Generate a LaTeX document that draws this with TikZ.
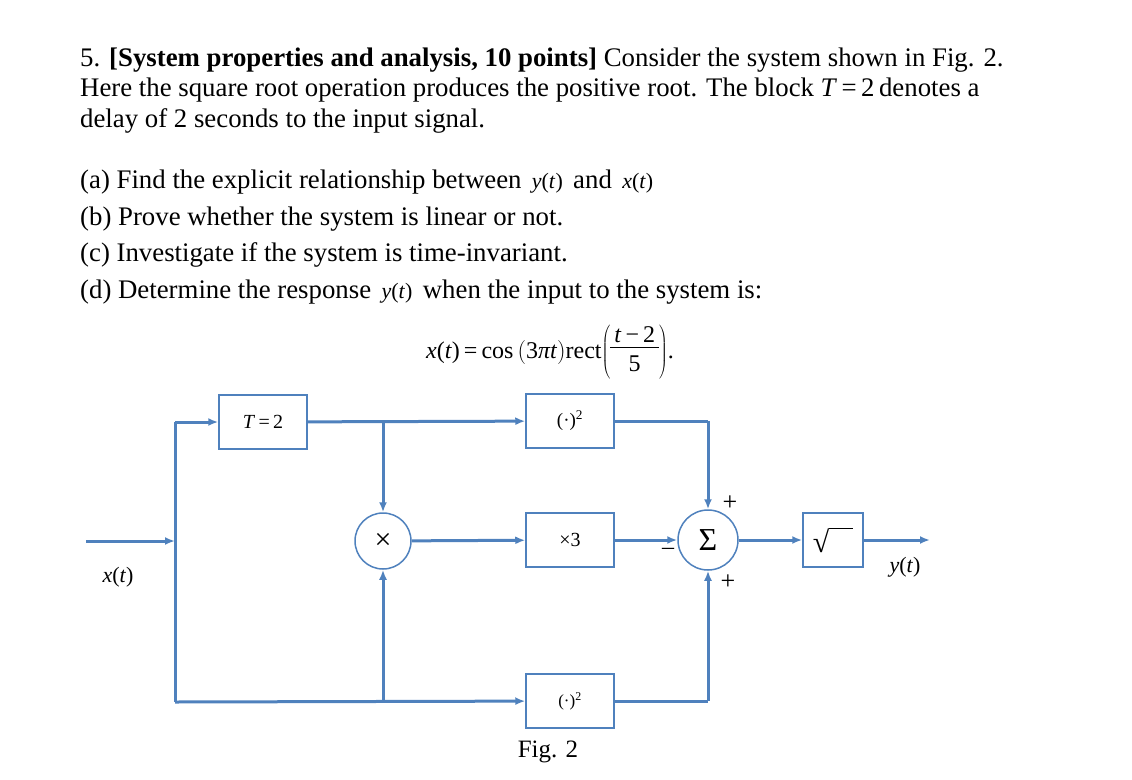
\documentclass[tikz,border=0pt]{standalone}
\usepackage{fix-cm}
\usepackage{fontspec}
\setmainfont{Liberation Serif}
\usetikzlibrary{arrows.meta}
\definecolor{wc}{RGB}{79,129,189}
\begin{document}
\begin{tikzpicture}[x=1pt,y=-1pt,
  wire/.style={draw=wc, line width=3pt},
  sig/.style={wire,-{Latex[length=10pt,width=8pt]}},
  blk/.style={draw=wc, line width=1.5pt, minimum width=88pt, minimum height=54pt, inner sep=0pt, fill=white},
  circ/.style={draw=wc, line width=1.5pt, circle, minimum size=58pt, inner sep=0pt, fill=white},
  txt/.style={anchor=base west, inner sep=0pt, font=\fontsize{26.8}{30}\selectfont}]
\useasboundingbox (0,0) rectangle (1132,779);
\node[txt] (l1) at (80,66) {5. \textbf{[System properties and analysis, 10 points]} Consider the system shown in Fig. 2.};
\node[txt] (l2) at (80,96) {Here the square root operation produces the positive root. The block \textit{T}\,=\,2\,denotes a};
\node[txt] (l3) at (80,127) {delay of 2 seconds to the input signal.};
\node[txt] (la) at (80,188) {(a) Find the explicit relationship between {\fontsize{22}{24}\selectfont\,\textit{y}(\textit{t})\,} and {\fontsize{22}{24}\selectfont\,\textit{x}(\textit{t})}};
\node[txt] (lb) at (80,225) {(b) Prove whether the system is linear or not.};
\node[txt] (lc) at (80,261) {(c) Investigate if the system is time-invariant.};
\node[txt] (ld) at (80,298) {(d) Determine the response {\fontsize{22}{24}\selectfont\,\textit{y}(\textit{t})\,} when the input to the system is:};
\node[inner sep=0pt, font=\fontsize{24}{26}\selectfont] (eq) at (550,352) {\textit{x}(\textit{t})\,=\,cos\,$\bigl($3\textit{πt}$\bigr)$rect$\left(\vcenter{\hbox{\begin{tabular}{@{\,}c@{\,}}\textit{t}\,−\,2\\[-3pt]\hline\rule{0pt}{24pt}5\end{tabular}}}\right)$.};

\node[blk, font=\fontsize{20}{22}\selectfont] (d) at (263,422) {\textit{T}\,=\,2};
\node[blk, font=\fontsize{19}{20}\selectfont] (sq1) at (570,421) {(·)\textsuperscript{2}};
\node[blk, font=\fontsize{20}{20}\selectfont] (m3) at (570,540) {×3};
\node[blk, font=\fontsize{17}{18}\selectfont] (sq2) at (570,701) {(·)\textsuperscript{2}};
\node[circ, minimum size=56pt, font=\fontsize{30}{30}\selectfont] (mul) at (383,541) {×};
\node[circ, minimum size=60pt, font=\fontsize{32}{32}\selectfont] (sum) at (708,540) {Σ};
\node[blk, minimum width=60pt, font=\fontsize{30}{30}\selectfont] (rt) at (833,540) {√\rule[0.78em]{0.8em}{1pt}};

\coordinate (in) at (86,541);
\coordinate (j1) at (175,541);
\coordinate (jt) at (175,422);
\coordinate (jb) at (175,702);
\coordinate (jm) at (383,422);
\coordinate (jmb) at (383,702);
\coordinate (rt1) at (708,421);
\coordinate (rb1) at (708,701);
\coordinate (out) at (930,540);

\draw[sig] (in) -- (j1);
\draw[wire] (jt) -- (jb);
\draw[sig] (jt) -- (d);
\draw[sig] (d) -- (sq1);
\draw[sig] (jm) -- (mul);
\draw[sig] (jb) -- (sq2);
\draw[sig] (jmb) -- (mul);
\draw[sig] (mul) -- (m3);
\draw[wire] (sq1) -- (rt1);
\draw[sig] (rt1) -- (sum);
\draw[wire] (sq2) -- (rb1);
\draw[sig] (rb1) -- (sum);
\draw[sig] (m3) -- (sum);
\draw[sig] (sum) -- (rt);
\draw[sig] (rt) -- (out);

\node[font=\fontsize{22}{22}\selectfont] (xl) at (118,577) {\textit{x}(\textit{t})};
\node[font=\fontsize{22}{22}\selectfont] (yl) at (905,567) {\textit{y}(\textit{t})};
\node[font=\fontsize{26}{26}\selectfont] (p1) at (730,503) {+};
\node[font=\fontsize{26}{26}\selectfont] (p2) at (728,582) {+};
\node[font=\fontsize{24}{24}\selectfont] (mn) at (668,551) {\textendash};
\node[font=\fontsize{25}{26}\selectfont] (fig) at (548,752) {Fig. 2};
\end{tikzpicture}
\end{document}
